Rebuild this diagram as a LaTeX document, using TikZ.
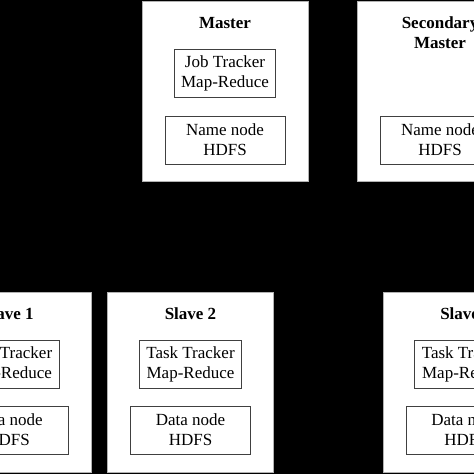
\documentclass[tikz,border=0pt]{standalone}
\usepackage{fontspec}
\setmainfont{Liberation Serif}

\begin{document}
\begin{tikzpicture}[x=1pt,y=-1pt,font=\fontsize{17}{20}\selectfont]
\useasboundingbox (0,0) rectangle (474,474);
\clip (0,0) rectangle (474,474);
\fill[black] (0,0) rectangle (474,474);

\begin{scope}[
    every node/.style={rectangle,draw=gray!60,fill=white,line width=0.8pt,
                       minimum width=166pt,minimum height=180pt}]
    \node (master) at (225, 91) {};
    \node (secondary) at (440, 91) {};

    % % slaves
    \node (slave1) at (8, 382) {};
    \node (slave2) at (190.5, 382) {};
    \node (slave3) at (466, 382) {};
\end{scope}

\begin{scope}[every node/.style={font=\fontsize{17}{20}\selectfont\bfseries,align=center}]
    \node (mastertitle) at (225, 23) {Master};
    \node (secondarytitle) at (440, 33) {Secondary\\Master};
    \node (slave1title) at (8, 313.5) {Slave 1};
    \node (slave2title) at (190.5, 313.5) {Slave 2};
    \node (slave3title) at (466, 313.5) {Slave 3};
\end{scope}

\begin{scope}[
    every node/.style={rectangle,draw=black!75,fill=white,line width=0.9pt,
                       align=center,minimum height=48pt,inner xsep=7pt},
    hdfs/.style={minimum width=120pt}]
    \node (jobtracker) at (225, 73.5) {Job Tracker\\Map-Reduce};
    \node (namenode) at (225, 140) [hdfs] {Name node\\HDFS};

    \node (namenode2) at (440, 140) [hdfs] {Name node\\HDFS};

    % % slaves
    \node (tasktracker1) at (8, 364) {Task Tracker\\Map-Reduce};
    \node (datanode1) at (8, 430) [hdfs] {Data node\\HDFS};
    \node (tasktracker2) at (190.5, 364) {Task Tracker\\Map-Reduce};
    \node (datanode2) at (190.5, 430) [hdfs] {Data node\\HDFS};
    \node (tasktracker3) at (466, 364) {Task Tracker\\Map-Reduce};
    \node (datanode3) at (466, 430) [hdfs] {Data node\\HDFS};
\end{scope}
\end{tikzpicture}
\end{document}
